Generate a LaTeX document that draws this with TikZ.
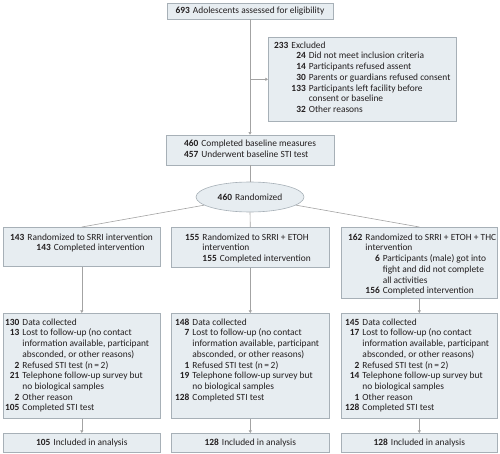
\documentclass[tikz,border=0pt]{standalone}
\usepackage{fontspec}
\setmainfont{Carlito}
\usetikzlibrary{shapes.geometric,arrows.meta}
\definecolor{boxfill}{HTML}{E7EDF1}
\definecolor{boxline}{HTML}{A7B0B7}
\definecolor{connline}{HTML}{A3A3A3}
\definecolor{txt}{HTML}{231F20}
\newcommand{\nb}[1]{\textbf{#1}}
\newcommand{\mc}[1]{\multicolumn{2}{@{}l@{}}{#1}}
\tikzset{
  box/.style={draw=boxline, fill=boxfill, line width=0.6pt, inner sep=0pt, text=txt,
    font=\fontsize{9.4}{10.7}\selectfont},
  txtblock/.style={inner sep=0pt, anchor=north west, text=txt, align=left,
    font=\fontsize{9.4}{10.7}\selectfont},
  conn/.style={draw=connline, line width=0.6pt},
  arr/.style={conn, -{Triangle[width=3pt,length=2.6pt]}},
}
\begin{document}
\begin{tikzpicture}[x=1pt,y=-1pt]
\useasboundingbox (0,0) rectangle (500,454);

% top boxes
\node[box, minimum width=166pt, minimum height=16pt] (top) at (250,11)
  {\nb{693}\hspace{3pt}Adolescents assessed for eligibility};

\node[box, minimum width=188pt, minimum height=84pt, anchor=north west] (excl) at (268,37) {};
\node[txtblock] (excltxt) at (274,40.6) {%
\begin{tabular}{@{}r@{\hspace{3pt}}r@{\hspace{3pt}}l@{}}
\nb{233} & \mc{Excluded}\\
& \nb{24} & Did not meet inclusion criteria\\
& \nb{14} & Participants refused assent\\
& \nb{30} & Parents or guardians refused consent\\
& \nb{133} & Participants left facility before\\
& & consent or baseline\\
& \nb{32} & Other reasons
\end{tabular}};

\node[box, minimum width=168pt, minimum height=30pt] (base) at (250,150) {%
\begin{tabular}{@{}r@{\hspace{3pt}}l@{}}
\nb{460} & Completed baseline measures\\
\nb{457} & Underwent baseline STI test
\end{tabular}};

\node[box, ellipse, minimum width=108pt, minimum height=30pt] (rand) at (250,197)
  {\nb{460}\hspace{3pt}Randomized};

% row 1
\node[box, minimum width=157pt, minimum height=39pt, anchor=north west] (a1) at (3,227) {};
\node[box, minimum width=158pt, minimum height=40pt, anchor=north west] (b1) at (171,227) {};
\node[box, minimum width=156pt, minimum height=71pt, anchor=north west] (c1) at (341,227) {};

\node[txtblock] (a1txt) at (10,232.6) {%
\begin{tabular}{@{}r@{\hspace{3pt}}r@{\hspace{3pt}}l@{}}
\nb{143} & \mc{Randomized to SRRI intervention}\\
& \hspace{9pt}\nb{143} & Completed intervention
\end{tabular}};
\node[txtblock] (b1txt) at (185,232.6) {%
\begin{tabular}{@{}r@{\hspace{3pt}}r@{\hspace{3pt}}l@{}}
\nb{155} & \mc{Randomized to SRRI + ETOH}\\
& \mc{intervention}\\
& \nb{155} & Completed intervention
\end{tabular}};
\node[txtblock] (c1txt) at (348,232.6) {%
\begin{tabular}{@{}r@{\hspace{3pt}}r@{\hspace{3pt}}l@{}}
\nb{162} & \mc{Randomized to SRRI + ETOH + THC}\\
& \mc{intervention}\\
& \nb{6} & Participants (male) got into\\
& & fight and did not complete\\
& & all activities\\
& \nb{156} & Completed intervention
\end{tabular}};

% row 2
\node[box, minimum width=157pt, minimum height=105pt, anchor=north west] (a2) at (3,313) {};
\node[box, minimum width=158pt, minimum height=105pt, anchor=north west] (b2) at (171,313) {};
\node[box, minimum width=156pt, minimum height=105pt, anchor=north west] (c2) at (341,313) {};

\node[txtblock] (a2txt) at (5,317.6) {%
\begin{tabular}{@{}r@{\hspace{3pt}}l@{}}
\nb{130} & Data collected\\
\nb{13} & Lost to follow-up (no contact\\
& information available, participant\\
& absconded, or other reasons)\\
\nb{2} & Refused STI test (n\,=\,2)\\
\nb{21} & Telephone follow-up survey but\\
& no biological samples\\
\nb{2} & Other reason\\
\nb{105} & Completed STI test
\end{tabular}};
\node[txtblock] (b2txt) at (175,317.6) {%
\begin{tabular}{@{}r@{\hspace{3pt}}l@{}}
\nb{148} & Data collected\\
\nb{7} & Lost to follow-up (no contact\\
& information available, participant\\
& absconded, or other reasons)\\
\nb{1} & Refused STI test (n\,=\,2)\\
\nb{19} & Telephone follow-up survey but\\
& no biological samples\\
\nb{128} & Completed STI test
\end{tabular}};
\node[txtblock] (c2txt) at (345,317.6) {%
\begin{tabular}{@{}r@{\hspace{3pt}}l@{}}
\nb{145} & Data collected\\
\nb{17} & Lost to follow-up (no contact\\
& information available, participant\\
& absconded, or other reasons)\\
\nb{2} & Refused STI test (n\,=\,2)\\
\nb{14} & Telephone follow-up survey but\\
& no biological samples\\
\nb{1} & Other reason\\
\nb{128} & Completed STI test
\end{tabular}};

% row 3
\node[box, minimum width=157pt, minimum height=19pt, anchor=north west] (a3) at (3,433)
  {\nb{105}\hspace{3pt}Included in analysis};
\node[box, minimum width=158pt, minimum height=19pt, anchor=north west] (b3) at (171,433)
  {\nb{128}\hspace{3pt}Included in analysis};
\node[box, minimum width=156pt, minimum height=19pt, anchor=north west] (c3) at (341,433)
  {\nb{128}\hspace{3pt}Included in analysis};

% connectors
\draw[arr] (top.south) -- (base.north);
\draw[arr] (top.south |- excl.west) -- (excl.west);
\draw[conn] (base.south) -- (rand.north);
\draw[conn] (rand) -- (a1.north);
\draw[conn] (rand.south) -- (b1.north);
\draw[conn] (rand) -- (c1.north);
\draw[arr] (a1.south) -- (a2.north);
\draw[arr] (b1.south) -- (b2.north);
\draw[arr] (c1.south) -- (c2.north);
\draw[arr] (a2.south) -- (a3.north);
\draw[arr] (b2.south) -- (b3.north);
\draw[arr] (c2.south) -- (c3.north);
\end{tikzpicture}
\end{document}
